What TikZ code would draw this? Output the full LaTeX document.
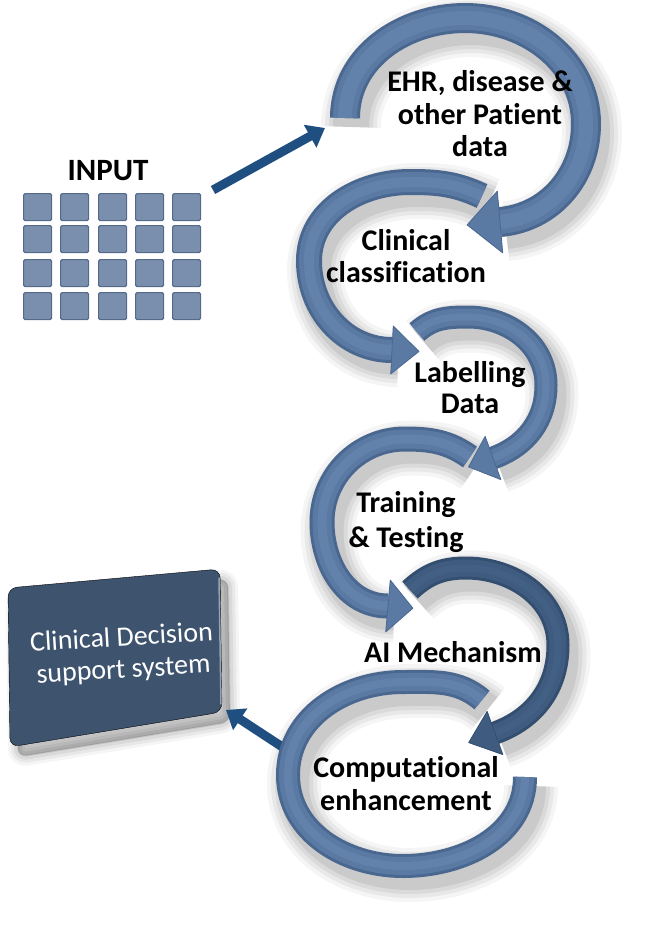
\documentclass[tikz,border=0pt]{standalone}
\usepackage{fontspec}
\setmainfont{Carlito}[Ligatures=NoCommon]
\usetikzlibrary{arrows.meta,calc}
\definecolor{bandedge}{HTML}{4A6790}
\definecolor{bandmid}{HTML}{5A7AA4}
\definecolor{bandhi}{HTML}{7492BA}
\definecolor{darkedge}{HTML}{334E6E}
\definecolor{darkmid}{HTML}{3F5B80}
\definecolor{darkhi}{HTML}{4A678C}
\definecolor{navy}{HTML}{1F4E80}
\definecolor{cellfill}{HTML}{7A8FAD}
\definecolor{celledge}{HTML}{55698A}
\definecolor{boxfill}{HTML}{3E546E}
\definecolor{boxlight}{HTML}{A9B8CA}

\newcommand{\stacklines}[1]{\begin{tabular}[t]{@{}c@{}}#1\end{tabular}}
\newcommand{\softshadow}[2]{%
  \foreach \ww/\oo in {30/0.04,22/0.05,14/0.06,6/0.07}{%
    \draw[line width=#2+\ww, black, opacity=\oo, shift={(6,-9)}] #1;}}
\newcommand{\band}[5]{%
  \draw[line width=#2, #3] #1;
  \draw[line width=#2-6, #4] #1;
  \draw[line width=#2-16, #5, opacity=0.35] #1;}
\newcommand{\ahead}[7]{%
  \filldraw[fill=#6, draw=#7, line width=0.8pt, line join=round]
    ($(#1,#2)+({#3+90}:#5)$) -- ($(#1,#2)+({#3}:#4)$) -- ($(#1,#2)+({#3-90}:#5)$) -- cycle;}

\tikzset{
  lbl/.style={font=\fontsize{30}{#1}\selectfont\bfseries, inner sep=0pt, anchor=base},
  lbl/.default=32,
  cell/.style={draw=celledge, fill=cellfill, line width=1.2pt, rounded corners=1.5pt,
    minimum width=28pt, minimum height=27pt, inner sep=0pt, anchor=north west},
  navyarrow/.style={draw=navy, line width=9pt, -{Triangle[length=17pt,width=25pt]}},
  boxst/.style={fill=boxfill, rounded corners=9pt},
  boxtext/.style={font=\fontsize{28}{32}\selectfont, text=white, rotate=3.5, anchor=base, inner sep=0pt},
}

\def\pA{(345,-118) to[out=90,in=180] (465,-18) to[out=0,in=90] (586,-124) to[out=-90,in=5] (500,-222)}
\def\pB{(482,-196) to[out=155,in=0] (410,-182) to[out=180,in=90] (309,-261) to[out=-90,in=180] (392,-350)}
\def\pC{(417,-332) to[out=42,in=180] (468,-317) to[out=0,in=90] (546,-385) to[out=-90,in=20] (493,-458)}
\def\pD{(470,-457) to[out=145,in=0] (405,-439) to[out=180,in=90] (322,-522) to[out=-90,in=180] (388,-606)}
\def\pE{(410,-590) to[out=43,in=180] (466,-568) to[out=0,in=90] (558,-645) to[out=-90,in=20] (495,-733)}
\def\pF{(482,-700) to[out=140,in=0] (403,-682) to[out=180,in=90] (288,-775) to[out=-90,in=180] (403,-866) to[out=0,in=-90] (525,-777)}

\begin{document}
\begin{tikzpicture}[x=1pt,y=1pt]
\fill[white] (0,0) rectangle (659,-934);
\useasboundingbox (0,0) rectangle (659,-934);

% shadows
\softshadow{\pA}{30}
\softshadow{\pB}{26}
\softshadow{\pC}{23}
\softshadow{\pD}{25}
\softshadow{\pE}{23}
\softshadow{\pF}{24}
\foreach \ww/\oo in {20/0.04,14/0.05,8/0.06,2/0.07}{%
  \filldraw[black, opacity=\oo, line width=\ww, rounded corners=9pt, shift={(8,-10)}]
    (8,-588) -- (220,-569) -- (222,-712) -- (10,-747) -- cycle;}

% INPUT grid
\node[lbl, font=\fontsize{31}{33}\selectfont\bfseries] (input) at (108,-180) {INPUT};
\foreach \c [count=\i] in {23,60,98,135,172}{
  \foreach \r [count=\j] in {193,225,259,292}{
    \node[cell] (cell-\j-\i) at (\c,-\r) {};
  }
}

% decision support box
\draw[boxst] (8,-588) -- (220,-569) -- (222,-712) -- (10,-747) -- cycle;
\draw[boxlight, line width=1.5pt, opacity=0.8, line cap=round] (219,-578) -- (221,-704);
\node[boxtext] (cdss) at (122,-646) {\stacklines{Clinical Decision\\support system}};

% arrow from computational enhancement to the box
\coordinate (outTail) at (290,-752);
\coordinate (boxIn) at (226,-710);
\draw[navyarrow] (outTail) -- (boxIn);

% circular arrows, bottom to top
\band{\pF}{24}{bandedge}{bandmid}{bandhi}
\band{\pE}{23}{darkedge}{darkmid}{darkhi}
\ahead{495}{-733}{200}{28}{23}{darkmid}{darkedge}
\band{\pD}{25}{bandedge}{bandmid}{bandhi}
\ahead{388}{-606}{-5}{25}{26}{bandmid}{bandedge}
\band{\pC}{23}{bandedge}{bandmid}{bandhi}
\ahead{493}{-458}{200}{26}{23}{bandmid}{bandedge}
\band{\pB}{26}{bandedge}{bandmid}{bandhi}
\ahead{392}{-350}{-3}{27}{24}{bandmid}{bandedge}
\band{\pA}{30}{bandedge}{bandmid}{bandhi}
\ahead{500}{-222}{185}{33}{31}{bandmid}{bandedge}

% input arrow
\coordinate (inTail) at (213,-190);
\coordinate (arcIn) at (325,-128);
\draw[navyarrow] (inTail) -- (arcIn);

% labels
\node[lbl=32.5] (ehr) at (480,-92) {\stacklines{EHR, disease \&\\other Patient\\data}};
\node[lbl=32] (clin) at (406,-250) {\stacklines{Clinical\\classification}};
\node[lbl=31] (lab) at (470,-382) {\stacklines{Labelling\\Data}};
\node[lbl=35] (train) at (406,-512) {\stacklines{Training\\\& Testing}};
\node[lbl] (ai) at (453,-662) {AI Mechanism};
\node[lbl=33] (comp) at (406,-777) {\stacklines{Computational\\enhancement}};
\end{tikzpicture}
\end{document}
